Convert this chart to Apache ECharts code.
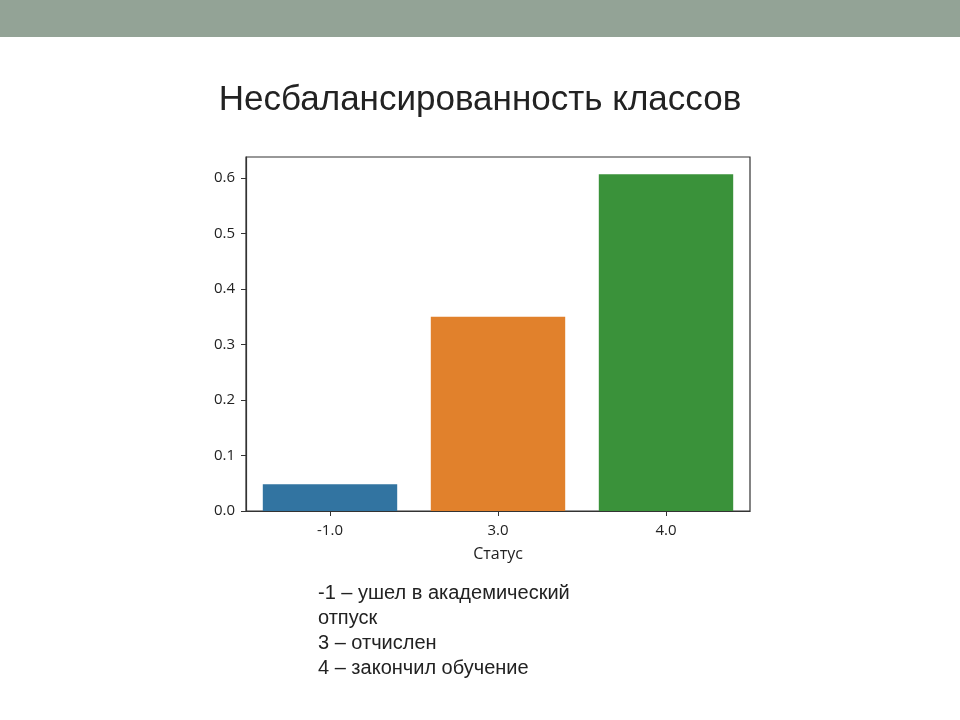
<!DOCTYPE html>
<html>
<head>
    <meta charset="utf-8">
    <style>
        html, body { margin: 0; padding: 0; background: #fff; }
    </style>
</head>
<body>

<div id="main" style="width: 960px;height:720px;"></div>
<script src="https://cdn.jsdelivr.net/npm/echarts@6/dist/echarts.min.js"></script>
<script type="text/javascript">
    // статусы студентов и доли классов
    var statusLabels = ['-1.0', '3.0', '4.0'];
    var shareValues = [0.048, 0.35, 0.607];
    var barColors = ['#3274a1', '#e1812c', '#3a923a'];
    var noteLines = [
        '-1 – ушел в академический',
        'отпуск',
        '3 – отчислен',
        '4 – закончил обучение'
    ];

    var option = {
        backgroundColor: '#fff',
        animation: false,
        title: {
            text: 'Несбалансированность классов',
            left: 'center',
            top: 78,
            textStyle: {
                fontFamily: 'Liberation Sans',
                fontWeight: 'normal',
                fontSize: 35,
                color: '#222'
            }
        },
        graphic: [
            {
                type: 'rect',
                shape: { x: 0, y: 0, width: 960, height: 37 },
                style: { fill: '#93a396' }
            },
            {
                type: 'text',
                left: 318,
                top: 581,
                style: {
                    text: noteLines.join('\n'),
                    font: '20px "Liberation Sans"',
                    lineHeight: 25,
                    fill: '#222'
                }
            }
        ],
        grid: {
            left: 246,
            right: 210,
            top: 157,
            bottom: 209,
            show: true,
            borderColor: '#333',
            borderWidth: 1.2
        },
        xAxis: {
            type: 'category',
            data: statusLabels,
            name: 'Статус',
            nameLocation: 'middle',
            nameGap: 35,
            nameTextStyle: { fontFamily: 'Open Sans', fontSize: 16, color: '#222' },
            axisLine: { lineStyle: { color: '#333', width: 1.2 } },
            axisTick: { show: true, alignWithLabel: true, length: 5, lineStyle: { color: '#333' } },
            axisLabel: { margin: 12, fontFamily: 'Open Sans', fontSize: 15, color: '#222' }
        },
        yAxis: {
            type: 'value',
            min: 0,
            max: 0.638,
            interval: 0.1,
            splitLine: { show: false },
            axisLine: { show: true, lineStyle: { color: '#333', width: 1.2 } },
            axisTick: { show: true, length: 5, lineStyle: { color: '#333' } },
            axisLabel: {
                margin: 11,
                showMaxLabel: false,
                fontFamily: 'Open Sans',
                fontSize: 15,
                color: '#222',
                formatter: function (v) { return v.toFixed(1); }
            }
        },
        series: [
            {
                type: 'bar',
                barCategoryGap: '20%',
                data: shareValues.map(function (v, i) {
                    return { value: v, itemStyle: { color: barColors[i] } };
                })
            }
        ]
    };
    var myChart = echarts.init(document.getElementById('main'));
    myChart.setOption(option);
</script>
</body>
</html>
